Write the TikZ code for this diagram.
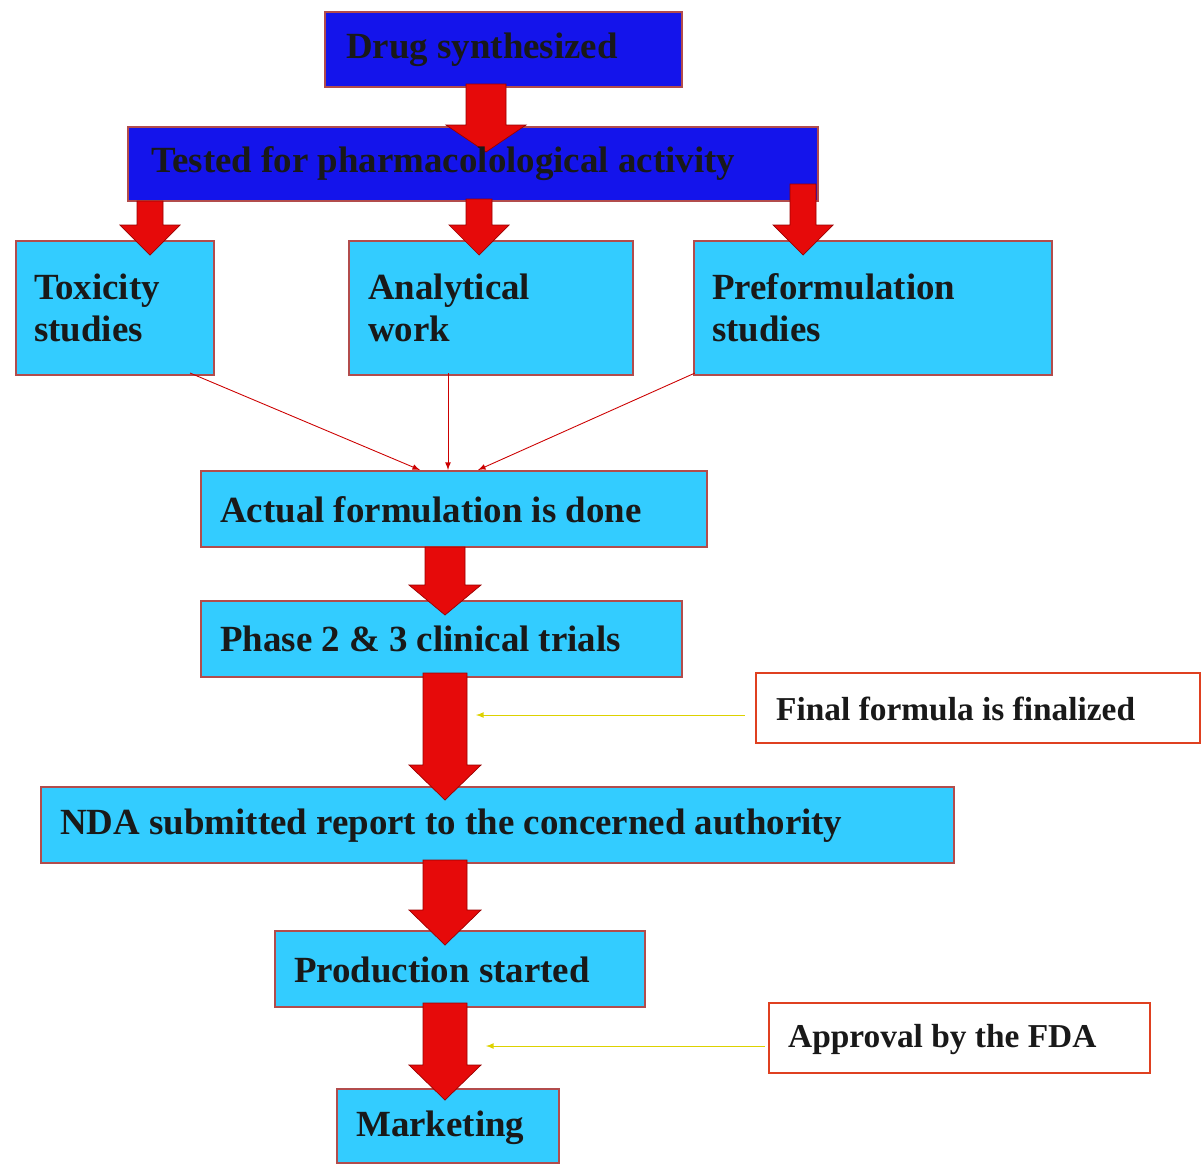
\documentclass[tikz,border=0pt]{standalone}
\usepackage{fontspec}
\setmainfont{Liberation Serif}
\definecolor{dblue}{RGB}{20,20,235}
\definecolor{cyanbox}{RGB}{51,204,255}
\definecolor{bred}{RGB}{230,10,10}
\definecolor{txt}{RGB}{25,25,25}
\tikzset{
  box/.style={draw=red!40!gray, line width=0.6pt, anchor=north west, inner sep=0pt},
  tb/.style={font=\bfseries\fontsize{21}{24}\selectfont, text=txt, anchor=west, align=left},
  blk/.style={fill=bred, draw=red!60!black, line width=0.4pt},
}
% block arrow: x centre, top, head start, tip, shaft half-width, head half-width
\newcommand\blockarr[6]{%
  \filldraw[blk] (#1-#5,#2) -- (#1+#5,#2) -- (#1+#5,#3) -- (#1+#6,#3) -- (#1,#4)
    -- (#1-#6,#3) -- (#1-#5,#3) -- cycle;}
\begin{document}
\begin{tikzpicture}[x=0.02cm,y=-0.02cm]
\useasboundingbox (0,0) rectangle (1202,1163);

% boxes
\fill[dblue, box] (325,12) rectangle (682,87);
\fill[dblue, box] (128,127) rectangle (818,201);
\filldraw[fill=cyanbox, box] (16,241) rectangle (214,375);
\filldraw[fill=cyanbox, box] (349,241) rectangle (633,375);
\filldraw[fill=cyanbox, box] (694,241) rectangle (1052,375);
\filldraw[fill=cyanbox, box] (201,471) rectangle (707,547);
\filldraw[fill=cyanbox, box] (201,601) rectangle (682,677);
\filldraw[fill=cyanbox, box] (41,787) rectangle (954,863);
\filldraw[fill=cyanbox, box] (275,931) rectangle (645,1007);
\filldraw[fill=cyanbox, box] (337,1089) rectangle (559,1163);
\filldraw[fill=white, box, draw=red!50!brown] (756,673) rectangle (1200,743);
\filldraw[fill=white, box, draw=red!50!brown] (769,1003) rectangle (1150,1073);

% thin connectors
\coordinate (t1) at (190,373); \coordinate (t2) at (448,373); \coordinate (t3) at (695,373);
\coordinate (m1) at (420,470); \coordinate (m2) at (448,470); \coordinate (m3) at (478,470);
\draw[red!80!black, line width=0.5pt, -latex] (t1) -- (m1);
\draw[red!80!black, line width=0.5pt, -latex] (t2) -- (m2);
\draw[red!80!black, line width=0.5pt, -latex] (t3) -- (m3);
\coordinate (f1) at (745,715); \coordinate (f2) at (476,715);
\coordinate (a1) at (765,1046); \coordinate (a2) at (486,1046);
\draw[yellow!70!olive, line width=0.5pt, -latex] (f1) -- (f2);
\draw[yellow!70!olive, line width=0.5pt, -latex] (a1) -- (a2);

% block arrows
\blockarr{486}{84}{125}{152}{20}{40}
\blockarr{150}{201}{225}{255}{13}{30}
\blockarr{479}{199}{225}{255}{13}{30}
\blockarr{803}{184}{225}{255}{13}{30}
\blockarr{445}{547}{585}{615}{20}{36}
\blockarr{445}{673}{765}{800}{22}{36}
\blockarr{445}{860}{910}{945}{22}{36}
\blockarr{445}{1003}{1065}{1100}{22}{36}

% texts
\node[tb] (n1) at (340,50) {Drug synthesized};
\node[tb] (n2) at (145,164) {Tested for pharmacolological activity};
\node[tb] (n3) at (28,308) {Toxicity\\studies};
\node[tb] (n4) at (362,308) {Analytical\\work};
\node[tb] (n5) at (706,308) {Preformulation\\studies};
\node[tb] (n6) at (214,510) {Actual formulation is done};
\node[tb] (n7) at (214,639) {Phase 2 \& 3 clinical trials};
\node[tb] (n8) at (54,826) {NDA submitted report to the concerned authority};
\node[tb] (n9) at (288,970) {Production started};
\node[tb] (n10) at (350,1128) {Marketing};
\node[tb, font=\bfseries\fontsize{19}{22}\selectfont] (n11) at (770,709) {Final formula is finalized};
\node[tb, font=\bfseries\fontsize{19}{22}\selectfont] (n12) at (782,1040) {Approval by the FDA};
\end{tikzpicture}
\end{document}
